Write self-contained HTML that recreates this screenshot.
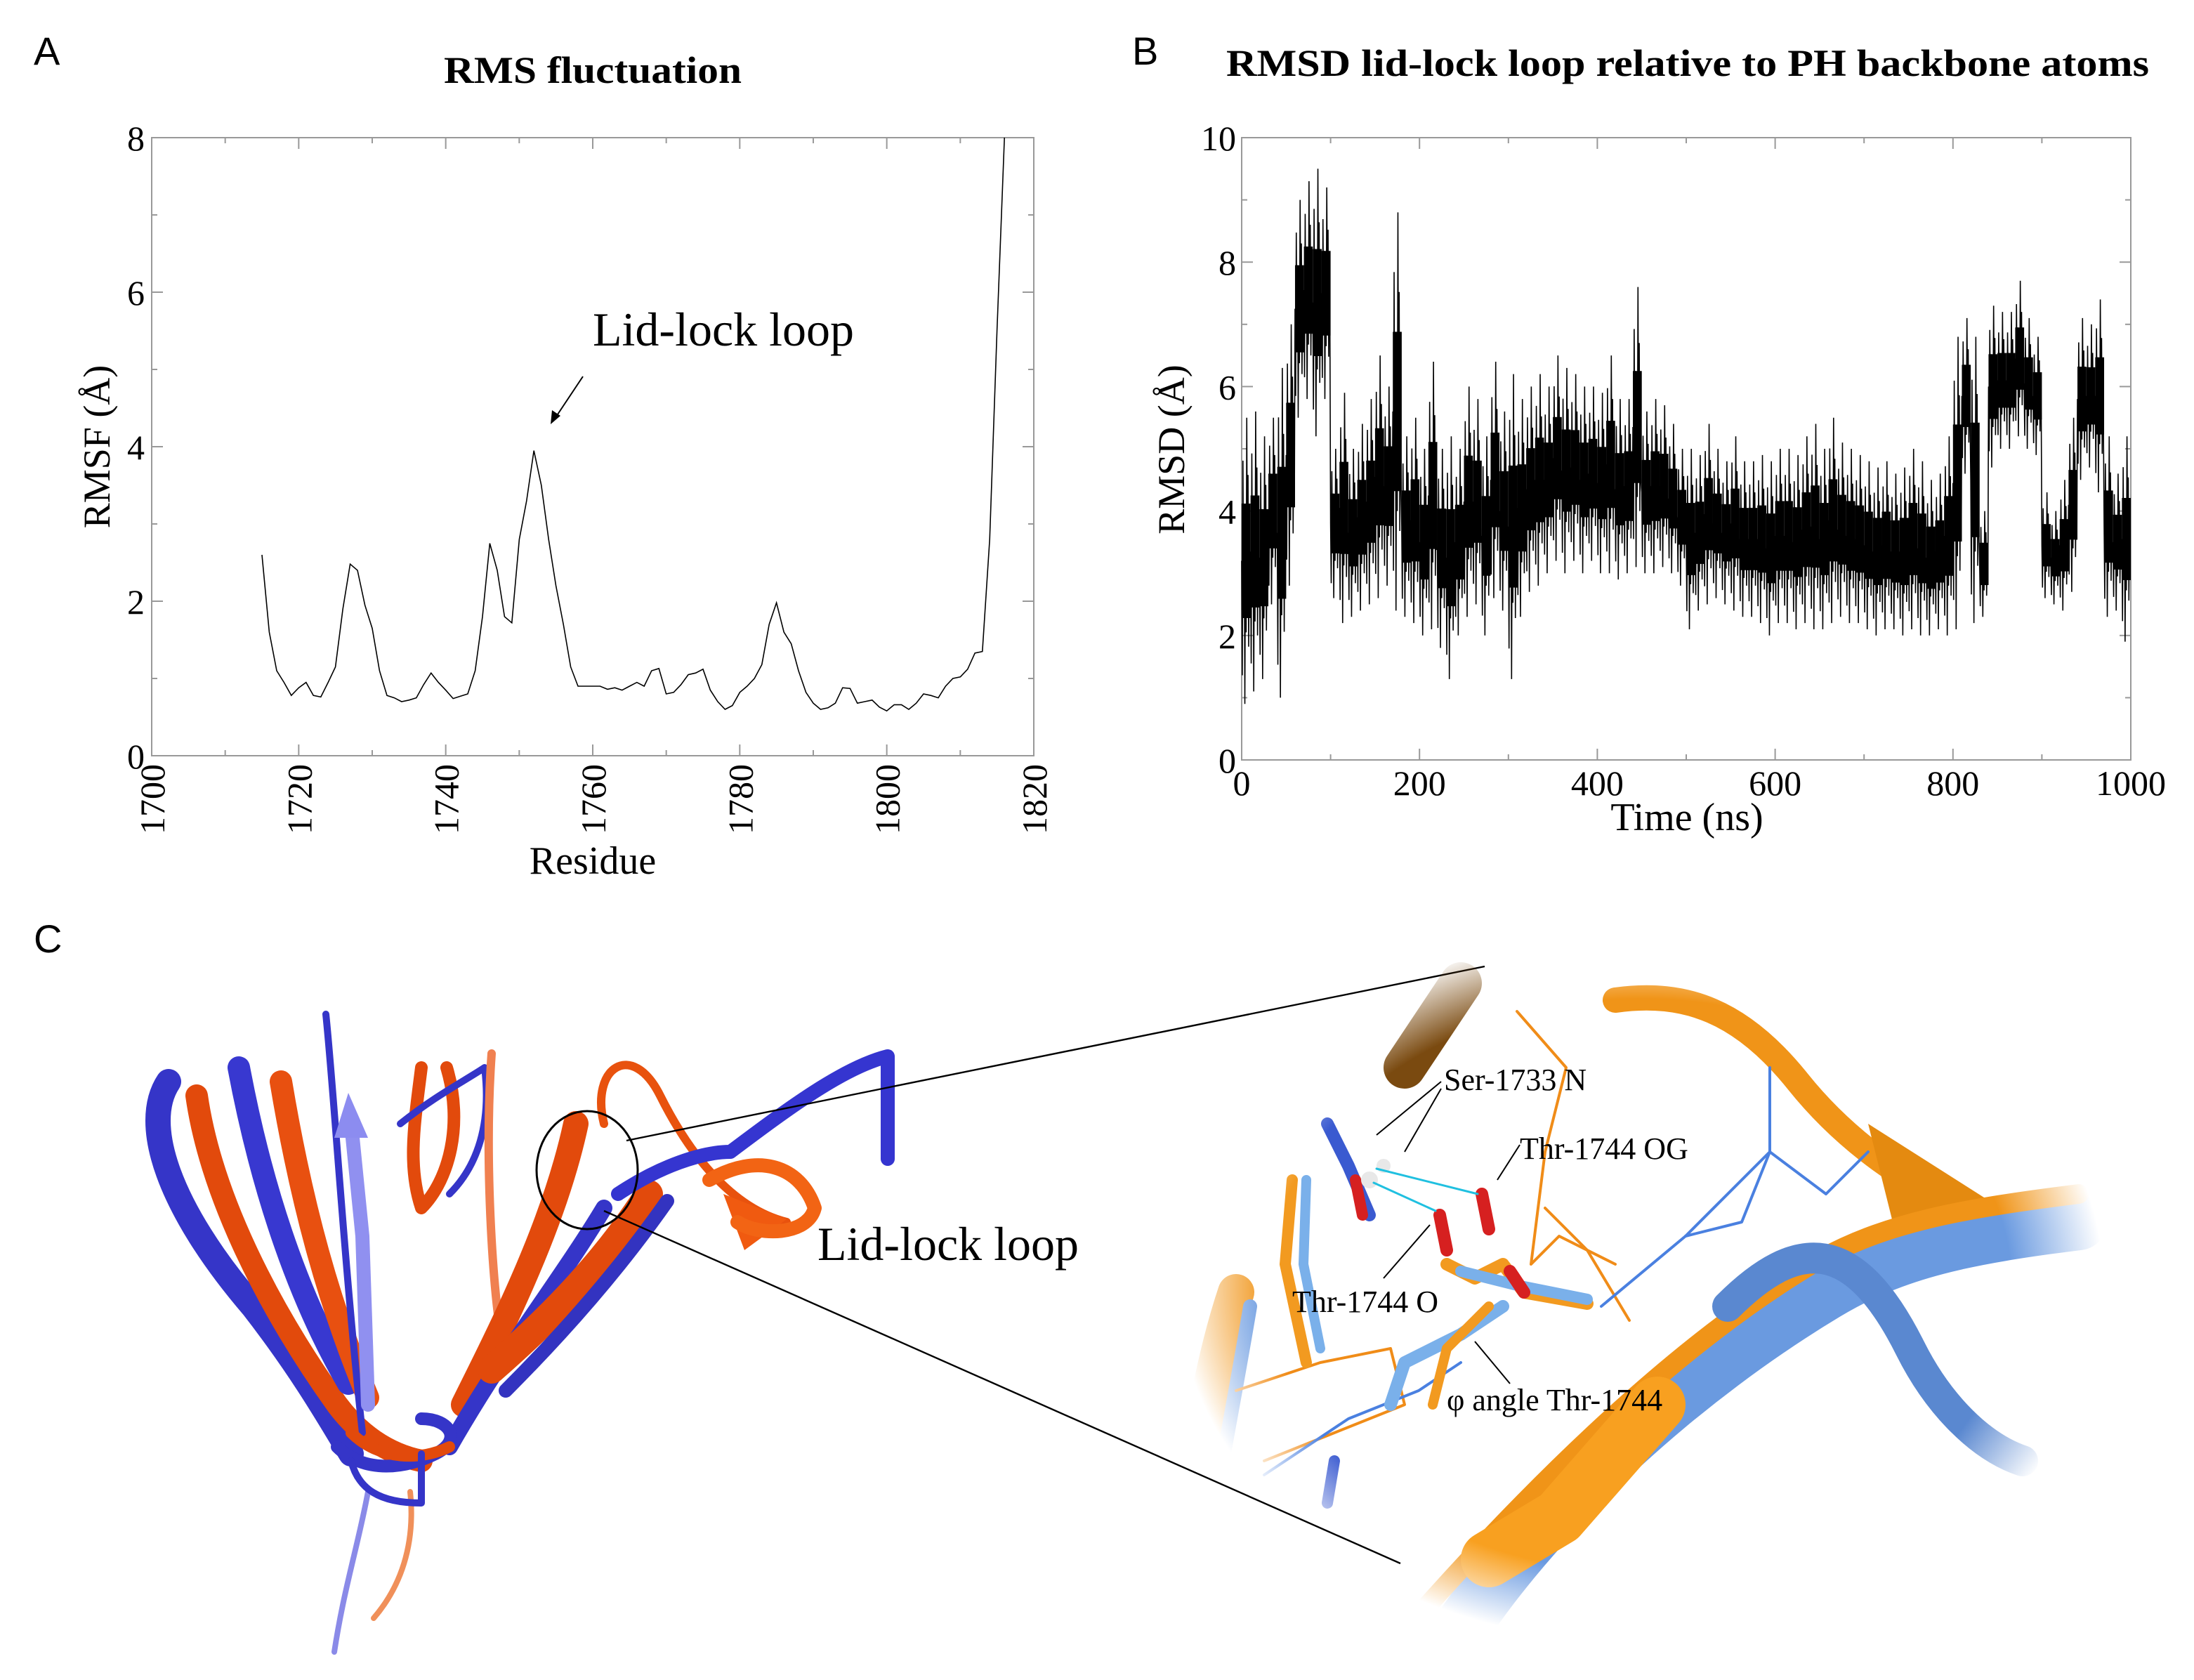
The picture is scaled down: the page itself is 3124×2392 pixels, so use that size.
<!DOCTYPE html>
<html><head><meta charset="utf-8">
<style>
html,body{margin:0;padding:0;background:#fff;}
svg{display:block;}
text{font-family:"Liberation Serif",serif;fill:#000;}
.lbl{font-family:"Liberation Sans","DejaVu Sans",sans-serif;}
</style></head>
<body>
<svg id="fig" width="3124" height="2392" viewBox="0 0 1562 1196" xmlns="http://www.w3.org/2000/svg">
<defs>
<radialGradient id="vg" cx="0.5" cy="0.5" r="0.5">
<stop offset="0.8" stop-color="#fff"/><stop offset="1" stop-color="#000"/>
</radialGradient>
<mask id="vmask"><ellipse cx="1168" cy="915" rx="330" ry="255" fill="url(#vg)"/></mask>
</defs>

<text class="lbl" x="24" y="46" font-size="28">A</text>
<text class="lbl" x="806" y="46" font-size="28">B</text>
<text class="lbl" x="24" y="678" font-size="28">C</text>

<g id="chartA">
<text x="316" y="59" font-size="27" font-weight="bold" textLength="212" lengthAdjust="spacingAndGlyphs">RMS fluctuation</text>
<text x="422" y="622" font-size="28" text-anchor="middle">Residue</text>
<text transform="translate(78,318) rotate(-90)" font-size="27" text-anchor="middle">RMSF (Å)</text>
<text x="422" y="246" font-size="34">Lid-lock loop</text>
<line x1="415" y1="268" x2="395" y2="298" stroke="#000" stroke-width="1"/>
<polygon points="392,302 393,292 399,296" fill="#000"/>
</g>

<g id="chartB">
<text x="873" y="54" font-size="27" font-weight="bold" textLength="657" lengthAdjust="spacingAndGlyphs">RMSD lid-lock loop relative to PH backbone atoms</text>
<text x="1201" y="591" font-size="28" text-anchor="middle">Time (ns)</text>
<text transform="translate(843,320) rotate(-90)" font-size="27" text-anchor="middle">RMSD (Å)</text>
</g>

<g fill="none" stroke-linecap="round" stroke-linejoin="round">
<path d="M262,1062 C255,1100 245,1130 238,1176" stroke="#8a8ae8" stroke-width="4"/>
<path d="M292,1062 C296,1100 285,1130 266,1152" stroke="#f0905a" stroke-width="4"/>
<path d="M120,770 C100,800 120,860 180,930 C215,975 235,1010 250,1035" stroke="#3535c8" stroke-width="18"/>
<path d="M140,780 C150,850 190,930 240,1000 C255,1020 275,1035 300,1040" stroke="#e24a0c" stroke-width="16"/>
<path d="M170,760 C185,840 210,920 248,985" stroke="#3838d0" stroke-width="16"/>
<path d="M200,770 C215,860 235,930 262,995" stroke="#e85010" stroke-width="16"/>
<path d="M232,722 C238,780 245,900 258,1020" stroke="#3535c8" stroke-width="5"/>
<path d="M250,800 L258,880 L262,1000" stroke="#9090f0" stroke-width="10"/>
<polygon points="238,810 248,778 262,810" fill="#8c8cf0"/>
<path d="M300,760 C295,800 290,830 300,860 C320,840 330,800 318,760" stroke="#e24a0c" stroke-width="9"/>
<path d="M285,800 C310,780 330,770 345,760 C350,800 340,830 320,850" stroke="#3535c8" stroke-width="5"/>
<path d="M350,750 C345,820 350,900 355,940" stroke="#f08050" stroke-width="6"/>
<path d="M410,800 C395,870 360,940 330,1000" stroke="#e24a0c" stroke-width="18"/>
<path d="M430,860 C400,910 360,960 320,1030" stroke="#3535c8" stroke-width="12"/>
<path d="M462,850 C430,900 390,940 350,975" stroke="#e24a0c" stroke-width="20"/>
<path d="M475,855 C440,905 400,950 360,990" stroke="#3333c0" stroke-width="10"/>
<path d="M430,800 C420,760 450,740 470,780 C490,820 520,860 560,870" stroke="#e8520e" stroke-width="6"/>
<polygon points="515,850 560,868 530,890" fill="#f05a10"/>
<path d="M505,840 C540,820 570,830 580,860 C575,880 540,880 525,870" stroke="#f26414" stroke-width="10"/>
<path d="M440,850 C470,830 500,820 520,820 C560,790 600,760 632,752 L632,825" stroke="#3535d0" stroke-width="10"/>
<path d="M240,1030 C260,1050 290,1045 310,1035 C330,1025 320,1010 300,1010" stroke="#3535c8" stroke-width="9"/>
<path d="M250,1020 C270,1040 300,1040 320,1030" stroke="#e24a0c" stroke-width="8"/>
<path d="M250,1040 C255,1060 270,1070 300,1070 L300,1035" stroke="#3535c8" stroke-width="5"/>
</g>
<ellipse cx="418" cy="833" rx="36" ry="42" fill="none" stroke="#000" stroke-width="1.5"/>
<line x1="446" y1="812" x2="1057" y2="688" stroke="#000" stroke-width="1.2"/>
<line x1="430" y1="862" x2="997" y2="1113" stroke="#000" stroke-width="1.2"/>
<text x="582" y="897" font-size="34">Lid-lock loop</text>

<g mask="url(#vmask)" fill="none" stroke-linecap="round" stroke-linejoin="round">
<path d="M1040,700 L1000,760" stroke="#7a4a10" stroke-width="30"/>
<path d="M1150,712 C1200,705 1240,720 1280,770 C1320,820 1380,860 1450,880" stroke="#f09418" stroke-width="18"/>
<polygon points="1330,800 1440,870 1350,880" fill="#e48a10"/>
<path d="M880,920 C870,950 860,990 850,1060" stroke="#f09418" stroke-width="26"/>
<path d="M890,930 C880,990 870,1040 860,1100" stroke="#6a9ae0" stroke-width="10"/>
<path d="M1040,1160 C1100,1070 1200,980 1300,920 C1350,890 1400,880 1480,870" stroke="#6a9ae0" stroke-width="40"/>
<path d="M1010,1150 C1090,1060 1190,960 1290,900 C1340,870 1400,860 1480,850" stroke="#f09418" stroke-width="14"/>
<path d="M1230,930 C1280,880 1320,880 1360,960 C1380,1000 1410,1030 1440,1040" stroke="#5a88d0" stroke-width="22"/>
<path d="M1060,1110 L1110,1080 L1180,1000" stroke="#f8a020" stroke-width="40"/>
<polyline points="1080,720 1115,760 1100,820 1090,900 1110,880 1150,900" stroke="#f08c18" stroke-width="2"/>
<polyline points="1100,860 1130,890 1160,940" stroke="#f08c18" stroke-width="2"/>
<polyline points="1140,930 1200,880 1260,820 1300,850 1330,820" stroke="#4a80e0" stroke-width="2"/>
<polyline points="1260,760 1260,820 1240,870 1200,880" stroke="#4a80e0" stroke-width="2"/>
<polyline points="880,990 940,970 990,960 1000,1000 950,1020 900,1040" stroke="#f08c18" stroke-width="2"/>
<polyline points="900,1050 960,1010 1010,990 1040,970" stroke="#4a80e0" stroke-width="2"/>
<path d="M920,840 L915,900 L930,970" stroke="#f29a20" stroke-width="8"/>
<path d="M930,840 L928,900 L940,960" stroke="#7ab0ea" stroke-width="7"/>
<path d="M945,800 L960,830 L975,865" stroke="#3a5ad0" stroke-width="9"/>
<path d="M1030,900 L1050,910 L1070,900 L1085,920 L1130,928" stroke="#f29a20" stroke-width="9"/>
<path d="M1040,905 L1080,915 L1130,925" stroke="#7ab0ea" stroke-width="8"/>
<path d="M1070,930 L1040,950 L1000,970 L990,1000" stroke="#7ab0ea" stroke-width="9"/>
<path d="M1060,930 L1030,960 L1020,1000" stroke="#f29a20" stroke-width="7"/>
<path d="M1025,865 L1030,890" stroke="#d62020" stroke-width="9"/>
<path d="M1055,850 L1060,875" stroke="#d62020" stroke-width="9"/>
<path d="M1075,905 L1085,920" stroke="#d62020" stroke-width="9"/>
<path d="M965,840 L970,865" stroke="#d62020" stroke-width="8"/>
<circle cx="975" cy="840" r="6" fill="#e8e8e8" stroke="none"/>
<circle cx="985" cy="830" r="5" fill="#e8e8e8" stroke="none"/>
<line x1="980" y1="832" x2="1052" y2="850" stroke="#20c0e0" stroke-width="1.5"/>
<line x1="978" y1="842" x2="1022" y2="862" stroke="#20c0e0" stroke-width="1.5"/>
<path d="M950,1040 L945,1070" stroke="#3a5ad0" stroke-width="8"/>
</g>
<text x="1028" y="776" font-size="22">Ser-1733 N</text>
<text x="1082" y="825" font-size="22">Thr-1744 OG</text>
<text x="920" y="934" font-size="22">Thr-1744 O</text>
<text x="1030" y="1004" font-size="22">φ angle Thr-1744</text>
<g stroke="#000" stroke-width="1">
<line x1="1026" y1="770" x2="980" y2="808"/><line x1="1026" y1="775" x2="1000" y2="820"/>
<line x1="1082" y1="815" x2="1066" y2="840"/>
<line x1="985" y1="910" x2="1018" y2="872"/>
<line x1="1075" y1="985" x2="1050" y2="955"/>
</g>
</svg>

<script>
const NS = "http://www.w3.org/2000/svg";
const residues = [];
for (let r = 1715; r <= 1816; r++) residues.push(r);
const rmsfValues = [2.6,1.6,1.1,0.95,0.78,0.88,0.95,0.78,0.76,0.95,1.15,1.9,2.48,2.4,1.95,1.65,1.1,0.78,0.75,0.7,0.72,0.75,0.92,1.07,0.95,0.85,0.74,0.77,0.8,1.1,1.8,2.75,2.4,1.8,1.72,2.8,3.3,3.95,3.5,2.8,2.2,1.7,1.15,0.9,0.9,0.9,0.9,0.86,0.88,0.85,0.9,0.95,0.9,1.1,1.13,0.8,0.82,0.92,1.05,1.07,1.12,0.85,0.7,0.6,0.65,0.82,0.9,1.0,1.18,1.7,1.98,1.6,1.45,1.1,0.82,0.68,0.6,0.62,0.68,0.88,0.87,0.68,0.7,0.72,0.63,0.58,0.66,0.66,0.6,0.68,0.8,0.78,0.75,0.9,1.0,1.02,1.12,1.33,1.35,2.8,5.5,8.0];
const aXTicks = [1700,1720,1740,1760,1780,1800,1820];
const aYTicks = [0,2,4,6,8];
const timeBins = [];
for (let t = 0; t < 1000; t += 10) timeBins.push(t);
const rmsdLow = [0.9,1.1,1.3,2.5,1.0,2.8,5.5,5.8,5.2,5.8,2.6,2.2,2.3,2.4,2.5,2.6,2.8,2.4,2.3,2.2,2.0,2.1,1.8,1.3,2.0,2.3,2.5,2.0,2.6,2.4,1.3,2.3,2.7,2.8,3.0,3.2,3.0,3.2,3.0,3.2,3.0,3.0,2.9,3.0,3.1,3.0,3.0,3.1,3.0,2.8,2.1,2.4,2.5,2.6,2.5,2.4,2.3,2.3,2.2,2.0,2.2,2.2,2.1,2.2,2.1,2.1,2.2,2.3,2.2,2.2,2.1,2.0,2.1,2.1,2.0,2.1,2.0,2.0,2.1,2.0,2.1,4.6,2.2,2.3,4.7,5.0,5.0,5.2,5.0,4.9,2.6,2.5,2.4,2.7,4.5,4.7,4.3,2.3,2.4,1.9];
const rmsdHigh = [5.5,5.6,5.2,5.5,6.3,7.0,9.0,9.3,9.5,9.2,5.0,5.9,5.0,5.4,5.8,6.5,6.0,8.8,5.2,5.5,5.0,6.4,5.0,5.2,5.0,6.0,5.8,5.2,6.4,5.6,6.2,5.8,6.0,6.2,6.0,6.5,6.3,6.2,6.0,6.0,5.9,6.5,5.8,5.8,7.6,5.6,5.8,5.7,5.4,5.0,5.0,4.9,5.4,5.0,4.8,5.2,4.8,4.8,4.9,4.8,5.0,5.0,4.9,5.2,5.4,5.0,5.5,5.1,5.0,4.9,4.8,4.7,4.8,4.6,4.7,5.0,4.8,4.5,4.6,5.2,6.8,7.1,6.8,4.0,7.3,7.2,7.2,7.7,7.1,6.8,4.3,4.0,4.5,5.5,7.1,7.0,7.4,5.2,4.6,5.2];
const bXTicks = [0,200,400,600,800,1000];
const bYTicks = [0,2,4,6,8,10];

function mk(tag, attrs, parent){const e=document.createElementNS(NS,tag);for(const k in attrs)e.setAttribute(k,attrs[k]);parent.appendChild(e);return e;}

function frame(g, x0,x1,y0,y1, xs, ys, xMaj, xMin, yMaj, yMin, name){
  const f = mk('rect',{x:x0,y:y0,width:x1-x0,height:y1-y0,fill:'none',stroke:'#999','stroke-width':1},g);
  
  
  const [xa,xb]=xs.domain,[ya,yb]=ys.domain;
  for(let v=xa; v<=xb+1e-9; v+=xMin){const x=xs(v);const L=(Math.abs(((v-xa)/xMaj)-Math.round((v-xa)/xMaj))<1e-6)?8:4;
    mk('line',{x1:x,x2:x,y1:y1,y2:y1-L,stroke:'#999','stroke-width':1},g);mk('line',{x1:x,x2:x,y1:y0,y2:y0+L,stroke:'#999','stroke-width':1},g);}
  for(let v=ya; v<=yb+1e-9; v+=yMin){const y=ys(v);const L=(Math.abs((v/yMaj)-Math.round(v/yMaj))<1e-6)?8:4;
    mk('line',{x1:x0,x2:x0+L,y1:y,y2:y,stroke:'#999','stroke-width':1},g);mk('line',{x1:x1,x2:x1-L,y1:y,y2:y,stroke:'#999','stroke-width':1},g);}
}

(function(){
  const g=document.getElementById('chartA');
  const x0=108,x1=736,y0=98,y1=538;
  const xs=v=>x0+(v-1700)/(120)*(x1-x0); xs.domain=[1700,1820];
  const ys=v=>y1-(v/8)*(y1-y0); ys.domain=[0,8];
  frame(g,x0,x1,y0,y1,xs,ys,20,10,2,1,'rmsf');
  aXTicks.forEach(v=>{const t=mk('text',{transform:`translate(${xs(v)+9},${y1+6}) rotate(-90)`,'font-size':25,'text-anchor':'end'},g);t.textContent=v;
    
    });
  aYTicks.forEach(v=>{const t=mk('text',{x:x0-5,y:ys(v)+9,'font-size':25,'text-anchor':'end'},g);t.textContent=v;
    
    });
  const pts=residues.map((r,i)=>xs(r).toFixed(1)+','+ys(rmsfValues[i]).toFixed(1)).join(' ');
  const pl=mk('polyline',{points:pts,fill:'none',stroke:'#000','stroke-width':0.8},g);
  
  
})();

(function(){
  const g=document.getElementById('chartB');
  const x0=884,x1=1517,y0=98,y1=541;
  const xs=v=>x0+(v/1000)*(x1-x0); xs.domain=[0,1000];
  const ys=v=>y1-(v/10)*(y1-y0); ys.domain=[0,10];
  frame(g,x0,x1,y0,y1,xs,ys,200,100,2,1,'rmsd');
  bXTicks.forEach(v=>{const t=mk('text',{x:xs(v),y:y1+25,'font-size':25,'text-anchor':'middle'},g);t.textContent=v;
    
    });
  bYTicks.forEach(v=>{const t=mk('text',{x:x0-4,y:ys(v)+9,'font-size':25,'text-anchor':'end'},g);t.textContent=v;
    
    });
  const frac=[0.5,0.1,0.85,0.35,0.7,0.0,0.6,0.25,1.0,0.45,0.8,0.2,0.65,0.3];
  const pts=[];
  timeBins.forEach((t,i)=>{const lo=rmsdLow[i],hi=rmsdHigh[i];
    frac.forEach((f,k)=>{const tt=t+10*k/frac.length; pts.push(xs(tt).toFixed(2)+','+ys(lo+(hi-lo)*f).toFixed(2));});});
  const pl=mk('polyline',{points:pts.join(' '),fill:'none',stroke:'#000','stroke-width':0.8},g);
  
  
  timeBins.forEach((t,i)=>{const lo=rmsdLow[i],hi=rmsdHigh[i];const r=hi-lo;
    const rc=mk('rect',{x:xs(t),y:ys(hi-r*0.3),width:xs(t+10)-xs(t),height:ys(lo+r*0.3)-ys(hi-r*0.3),fill:'#000'},g);
    
    });
})();
</script>
</body></html>
